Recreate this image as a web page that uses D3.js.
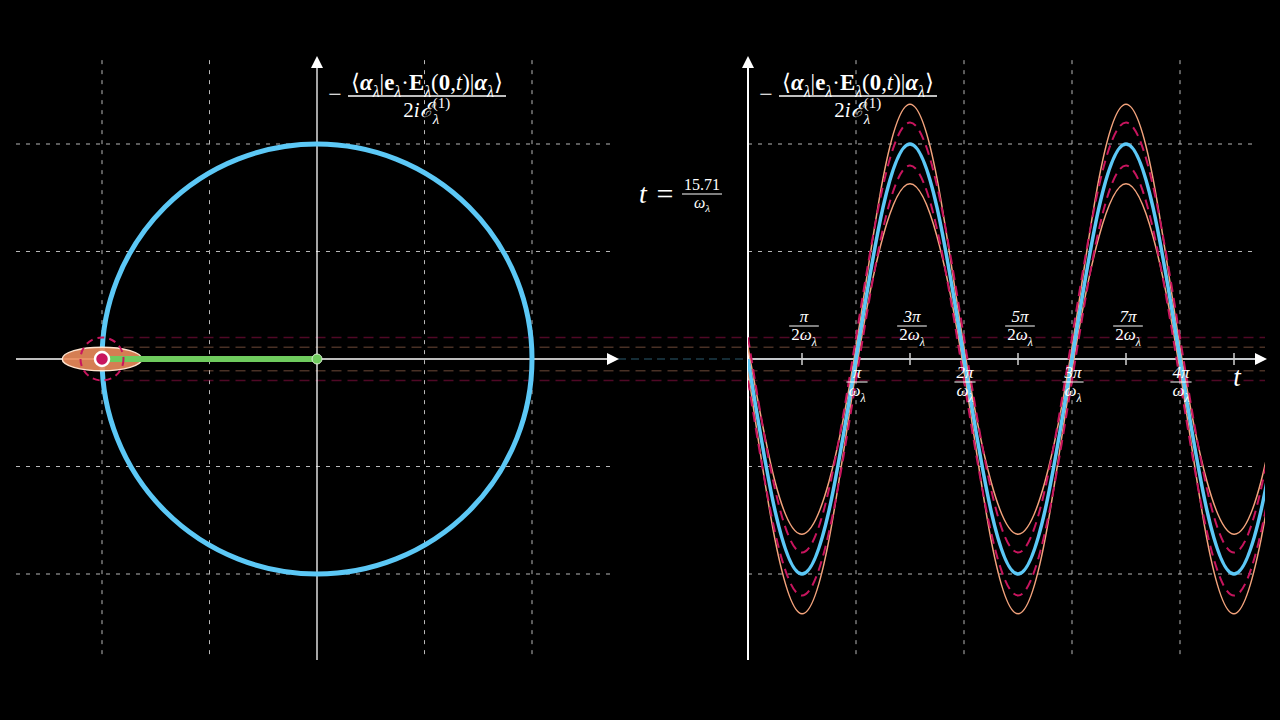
<!DOCTYPE html>
<html lang="en">
<head>
<meta charset="UTF-8">
<title>field-expectation</title>
<script src="https://cdn.jsdelivr.net/npm/d3@7"></script>
<style>
  body { margin: 0; background: #000; }
  svg { display: block; background: #000; }
  text { font-family: "Liberation Serif", "DejaVu Serif", serif; fill: #fff; }
</style>
</head>
<body>
<svg id="chart" width="1280" height="720"></svg>
<script>
// time nodes, in units of pi/omega
var tNodes = [0, 0.25, 0.5, 0.75, 1, 1.25, 1.5, 1.75, 2, 2.25, 2.5, 2.75, 3, 3.25, 3.5, 3.75, 4, 4.25, 4.5, 4.75, 5];
// mean field (grid units) read at each node
var fieldMean = [0, -1.41, -2, -1.41, 0, 1.41, 2, 1.41, 0, -1.41, -2, -1.41, 0, 1.41, 2, 1.41, 0, -1.41, -2, -1.41, 0];
// half width of the squeezed band (orange)
var squeezedHalf = [0.11, 0.27, 0.37, 0.27, 0.11, 0.27, 0.37, 0.27, 0.11, 0.27, 0.37, 0.27, 0.11, 0.27, 0.37, 0.27, 0.11, 0.27, 0.37, 0.27, 0.11];
// half width of the coherent band (magenta dashed)
var coherentHalf = [0.2, 0.2, 0.2, 0.2, 0.2, 0.2, 0.2, 0.2, 0.2, 0.2, 0.2, 0.2, 0.2, 0.2, 0.2, 0.2, 0.2, 0.2, 0.2, 0.2, 0.2];

// phase space picture
var phasor = [-2, 0];
var orbitRadius = 2;
var squeezeAxes = [0.37, 0.11];
var coherentRadius = 0.2;

var gridVals = [-2, -1, 1, 2];
var tickVals = [0.5, 1, 1.5, 2, 2.5, 3, 3.5, 4, 4.5];
var tickAboveVals = [0.5, 1.5, 2.5, 3.5];
var tickAboveNum = ["π", "3π", "5π", "7π"];
var tickBelowVals = [1, 2, 3, 4];
var tickBelowNum = ["π", "2π", "3π", "4π"];
var timeLabel = "15.71";

var blue = "#5cc8f6", orange = "#f3a37c", magenta = "#c8155e", green = "#6fcb5e";

var svg = d3.select("#chart");

// scales
var xL = d3.scaleLinear().domain([-2, 2]).range([102, 532]);
var yS = d3.scaleLinear().domain([-2, 2]).range([574, 144]);
var xR = d3.scaleLinear().domain([0, 5]).range([748, 1288]);
var unit = xL(1) - xL(0);

// grid
var grid = svg.append("g")
    .attr("stroke", "#d8d8d8")
    .attr("stroke-width", 1)
    .attr("stroke-dasharray", "4,6")
    .attr("opacity", 0.85);

grid.selectAll(".vl").data(gridVals).enter().append("line")
    .attr("x1", function (d) { return xL(d); }).attr("x2", function (d) { return xL(d); })
    .attr("y1", yS(2.78)).attr("y2", yS(-2.8));
grid.selectAll(".hl").data(gridVals).enter().append("line")
    .attr("x1", xL(-2.8)).attr("x2", xL(2.77))
    .attr("y1", function (d) { return yS(d); }).attr("y2", function (d) { return yS(d); });
grid.selectAll(".vr").data(tickBelowVals).enter().append("line")
    .attr("x1", function (d) { return xR(d); }).attr("x2", function (d) { return xR(d); })
    .attr("y1", yS(2.78)).attr("y2", yS(-2.8));
grid.selectAll(".hr").data(gridVals).enter().append("line")
    .attr("x1", xR(0)).attr("x2", xR(4.72))
    .attr("y1", function (d) { return yS(d); }).attr("y2", function (d) { return yS(d); });

// projection lines from the phase picture to the time plot
var proj = [
    { v: coherentRadius, c: magenta, o: 0.4 },
    { v: -coherentRadius, c: magenta, o: 0.4 },
    { v: squeezeAxes[1], c: orange, o: 0.3 },
    { v: -squeezeAxes[1], c: orange, o: 0.3 }
];
svg.append("g").selectAll("line").data(proj).enter().append("line")
    .attr("x1", xL(-1.8)).attr("x2", 1265)
    .attr("y1", function (d) { return yS(d.v); }).attr("y2", function (d) { return yS(d.v); })
    .attr("stroke", function (d) { return d.c; })
    .attr("stroke-opacity", function (d) { return d.o; })
    .attr("stroke-width", 1.5)
    .attr("stroke-dasharray", "10,6");

svg.append("line")
    .attr("x1", 618).attr("x2", xR(0))
    .attr("y1", yS(0)).attr("y2", yS(0))
    .attr("stroke", blue).attr("stroke-opacity", 0.3)
    .attr("stroke-width", 1.5).attr("stroke-dasharray", "8,5");

// axes
function arrowRight(x, y, c) {
    svg.append("path").attr("d", "M" + x + "," + y + " l-12,-6 l0,12 z").attr("fill", c);
}
function arrowUp(x, y, c) {
    svg.append("path").attr("d", "M" + x + "," + y + " l-6,12 l12,0 z").attr("fill", c);
}
svg.append("line").attr("x1", xL(-2.8)).attr("x2", 608).attr("y1", yS(0)).attr("y2", yS(0))
    .attr("stroke", "#bdbdbd").attr("stroke-width", 2);
arrowRight(619, yS(0), "#fff");
svg.append("line").attr("x1", xL(0)).attr("x2", xL(0)).attr("y1", yS(-2.8)).attr("y2", 66)
    .attr("stroke", "#fff").attr("stroke-width", 1.3);
arrowUp(xL(0), 56, "#fff");

svg.append("line").attr("x1", xR(0)).attr("x2", 1256).attr("y1", yS(0)).attr("y2", yS(0))
    .attr("stroke", "#c4c8cc").attr("stroke-width", 2);
arrowRight(1267, yS(0), "#fff");
svg.append("line").attr("x1", xR(0)).attr("x2", xR(0)).attr("y1", yS(-2.8)).attr("y2", 66)
    .attr("stroke", "#fff").attr("stroke-width", 2);
arrowUp(xR(0), 56, "#fff");

svg.append("g").selectAll("line").data(tickVals).enter().append("line")
    .attr("x1", function (d) { return xR(d); }).attr("x2", function (d) { return xR(d); })
    .attr("y1", yS(0) - 6).attr("y2", yS(0) + 6)
    .attr("stroke", "#d0d0d0").attr("stroke-width", 1.5);

// phase space: orbit, squeezed ellipse, coherent circle
svg.append("circle")
    .attr("cx", xL(0)).attr("cy", yS(0)).attr("r", orbitRadius * unit)
    .attr("fill", "none").attr("stroke", blue).attr("stroke-width", 5);

svg.append("ellipse")
    .attr("cx", xL(phasor[0])).attr("cy", yS(phasor[1]))
    .attr("rx", squeezeAxes[0] * unit).attr("ry", squeezeAxes[1] * unit)
    .attr("fill", "#ec8c5c").attr("fill-opacity", 0.9)
    .attr("stroke", "#ffe4cf").attr("stroke-width", 1.5);

svg.append("line")
    .attr("x1", xL(phasor[0])).attr("x2", xL(0))
    .attr("y1", yS(phasor[1])).attr("y2", yS(0))
    .attr("stroke", green).attr("stroke-width", 6);

svg.append("circle")
    .attr("cx", xL(phasor[0])).attr("cy", yS(phasor[1])).attr("r", coherentRadius * unit)
    .attr("fill", "none").attr("stroke", magenta).attr("stroke-width", 2)
    .attr("stroke-dasharray", "7,5");

svg.append("circle").attr("cx", xL(0)).attr("cy", yS(0)).attr("r", 5)
    .attr("fill", green).attr("stroke", "#d8f0d0").attr("stroke-width", 1);
svg.append("circle").attr("cx", xL(phasor[0])).attr("cy", yS(phasor[1])).attr("r", 7)
    .attr("fill", magenta).attr("stroke", "#fff").attr("stroke-width", 2.5);

// time plot
svg.append("clipPath").attr("id", "clipR").append("rect")
    .attr("x", xR(0)).attr("y", 0).attr("width", 1265 - xR(0)).attr("height", 720);

var plot = svg.append("g").attr("clip-path", "url(#clipR)");
function curve(off, sign) {
    return d3.line()
        .x(function (d, i) { return xR(tNodes[i]); })
        .y(function (d, i) { return yS(d + sign * off[i]); })
        .curve(d3.curveNatural)(fieldMean);
}
[1, -1].forEach(function (s) {
    plot.append("path").attr("d", curve(squeezedHalf, s))
        .attr("fill", "none").attr("stroke", orange).attr("stroke-width", 1.5);
    plot.append("path").attr("d", curve(coherentHalf, s))
        .attr("fill", "none").attr("stroke", magenta).attr("stroke-width", 2)
        .attr("stroke-dasharray", "10,6");
});
plot.append("path").attr("d", curve(coherentHalf, 0))
    .attr("fill", "none").attr("stroke", blue).attr("stroke-width", 3.5);

// rich text helper: parts = [text, style]; style letters: i italic, b bold, s sub, p sup
function rich(sel, parts, size) {
    var shift = 0;
    parts.forEach(function (p) {
        var st = p[1] || "";
        var target = st.indexOf("s") >= 0 ? size * 0.3 : (st.indexOf("p") >= 0 ? -size * 0.4 : 0);
        sel.append("tspan").text(p[0])
            .attr("font-style", st.indexOf("i") >= 0 ? "italic" : "normal")
            .attr("font-weight", st.indexOf("b") >= 0 ? "bold" : "normal")
            .attr("font-size", (st.indexOf("s") >= 0 || st.indexOf("p") >= 0) ? size * 0.7 : size)
            .attr("dy", target - shift);
        shift = target;
    });
}

function fraction(cx, yBar, num, den, size) {
    var g = svg.append("g");
    var n = g.append("text").attr("x", cx).attr("y", yBar - 4).attr("text-anchor", "middle").attr("font-size", size);
    rich(n, num, size);
    var d = g.append("text").attr("x", cx).attr("y", yBar + size * 0.85).attr("text-anchor", "middle").attr("font-size", size);
    rich(d, den, size);
    var w = Math.max(n.node().getComputedTextLength(), d.node().getComputedTextLength()) + 4;
    g.append("line").attr("x1", cx - w / 2).attr("x2", cx + w / 2).attr("y1", yBar).attr("y2", yBar)
        .attr("stroke", "#fff").attr("stroke-width", 1);
    return g;
}

var numParts = [["⟨"], ["α", "bi"], ["λ", "is"], ["|"], ["e", "b"], ["λ", "is"], ["·"], ["E", "b"], ["λ", "is"],
    ["("], ["0", "b"], [","], ["t", "i"], [")"], ["|"], ["α", "bi"], ["λ", "is"], ["⟩"]];

function bigLabel(ax) {
    var yBar = 96;
    svg.append("text").attr("x", ax + 18).attr("y", yBar + 6).attr("text-anchor", "middle")
        .attr("font-size", 24).text("−");
    var cx = ax + 110;
    // fit the numerator to the width of the fraction bar
    var size = 20;
    var n = svg.append("text").attr("x", cx).attr("y", yBar - 6).attr("text-anchor", "middle");
    rich(n, numParts, size);
    var nw = n.node().getComputedTextLength();
    size = size * 152 / nw;
    n.remove();
    n = svg.append("text").attr("x", cx).attr("y", yBar - 6).attr("text-anchor", "middle");
    rich(n, numParts, size);
    svg.append("line").attr("x1", ax + 31).attr("x2", ax + 189).attr("y1", yBar).attr("y2", yBar)
        .attr("stroke", "#fff").attr("stroke-width", 1.3);
    var d = svg.append("text").attr("y", yBar + 21);
    rich(d, [["2"], ["i", "i"], ["ℰ", "i"]], 21);
    var dw = d.node().getComputedTextLength();
    var x0 = cx - (dw + 18) / 2;
    d.attr("x", x0);
    svg.append("text").attr("x", x0 + dw).attr("y", yBar + 12).attr("font-size", 15).text("(1)");
    svg.append("text").attr("x", x0 + dw).attr("y", yBar + 28).attr("font-size", 15)
        .attr("font-style", "italic").text("λ");
}
bigLabel(xL(0));
bigLabel(xR(0));

// current time label
svg.append("text").attr("x", 643).attr("y", 203).attr("text-anchor", "middle")
    .attr("font-size", 28).attr("font-style", "italic").text("t");
svg.append("text").attr("x", 665).attr("y", 204).attr("text-anchor", "middle")
    .attr("font-size", 30).text("=");
fraction(702, 194, [[timeLabel]], [["ω", "i"], ["λ", "is"]], 16);

// tick labels
tickAboveVals.forEach(function (v, i) {
    fraction(xR(v) + 2, 326, [[tickAboveNum[i], "i"]], [["2"], ["ω", "i"], ["λ", "is"]], 17);
});
tickBelowVals.forEach(function (v, i) {
    fraction(xR(v) + 1, 382, [[tickBelowNum[i], "i"]], [["ω", "i"], ["λ", "is"]], 17);
});

svg.append("text").attr("x", 1237).attr("y", 386).attr("text-anchor", "middle")
    .attr("font-size", 27).attr("font-style", "italic").text("t");
</script>
</body>
</html>
